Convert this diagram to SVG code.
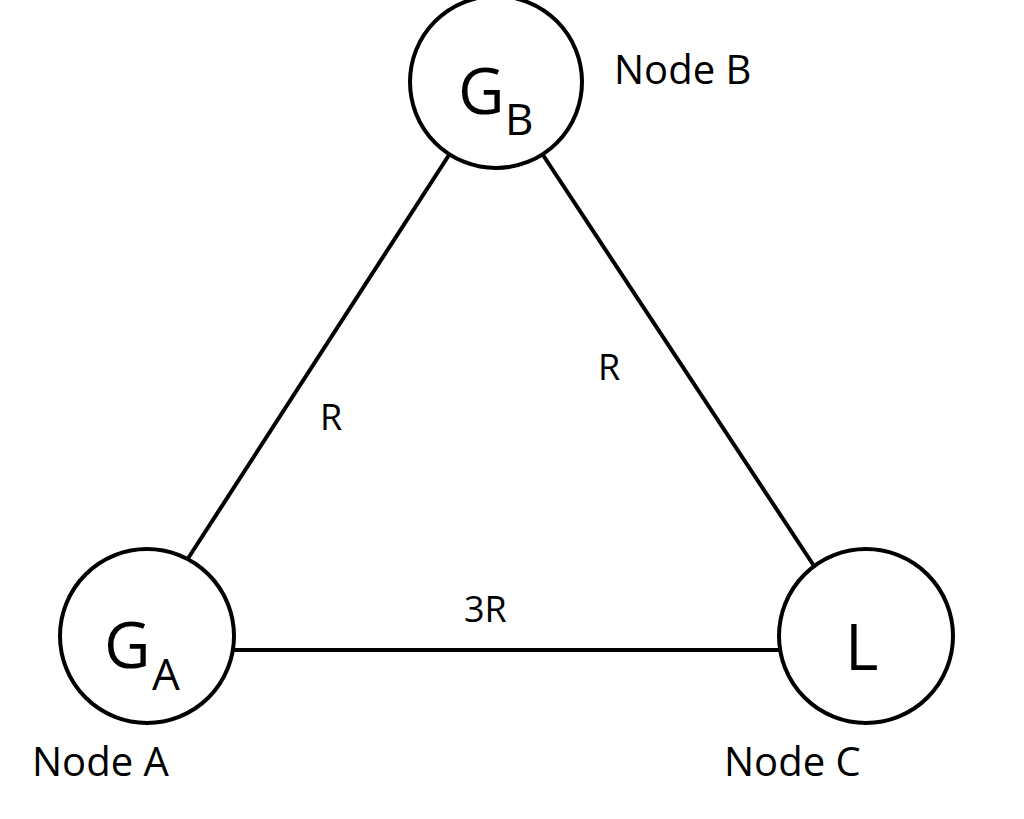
<svg xmlns="http://www.w3.org/2000/svg" width="1024" height="819" viewBox="0 0 1024 819">
<style>
.n{fill:#fff;stroke:#000;stroke-width:4}
.c line{stroke:#000;stroke-width:4}
text{font-family:"Open Sans","Liberation Sans",sans-serif;fill:#000}
.lb{font-size:40px}
.g{font-size:64px}
.s{font-size:44px}
.e{font-size:36px}
</style>
<rect width="1024" height="819" fill="#fff"/>
<g class="c">
<line x1="187" y1="560" x2="449" y2="155"/>
<line x1="543" y1="155" x2="818" y2="572"/>
<line x1="234" y1="650" x2="779" y2="650"/>
</g>
<text class="e" x="320" y="430">R</text>
<text class="e" x="598" y="380">R</text>
<text class="e" x="464" y="622">3R</text>
<g id="nodeB"><circle class="n" cx="496" cy="82" r="86"/><text class="g" x="458" y="114">G</text><text class="s" x="505" y="135">B</text><text class="lb" x="614" y="84">Node B</text></g>
<g id="nodeA"><circle class="n" cx="147" cy="636" r="87"/><text class="g" x="104" y="668">G</text><text class="s" x="152" y="690">A</text><text class="lb" x="32" y="776">Node A</text></g>
<g id="nodeC"><circle class="n" cx="866" cy="636" r="87"/><text class="g" x="845" y="670">L</text><text class="lb" x="724" y="776">Node C</text></g>
</svg>
